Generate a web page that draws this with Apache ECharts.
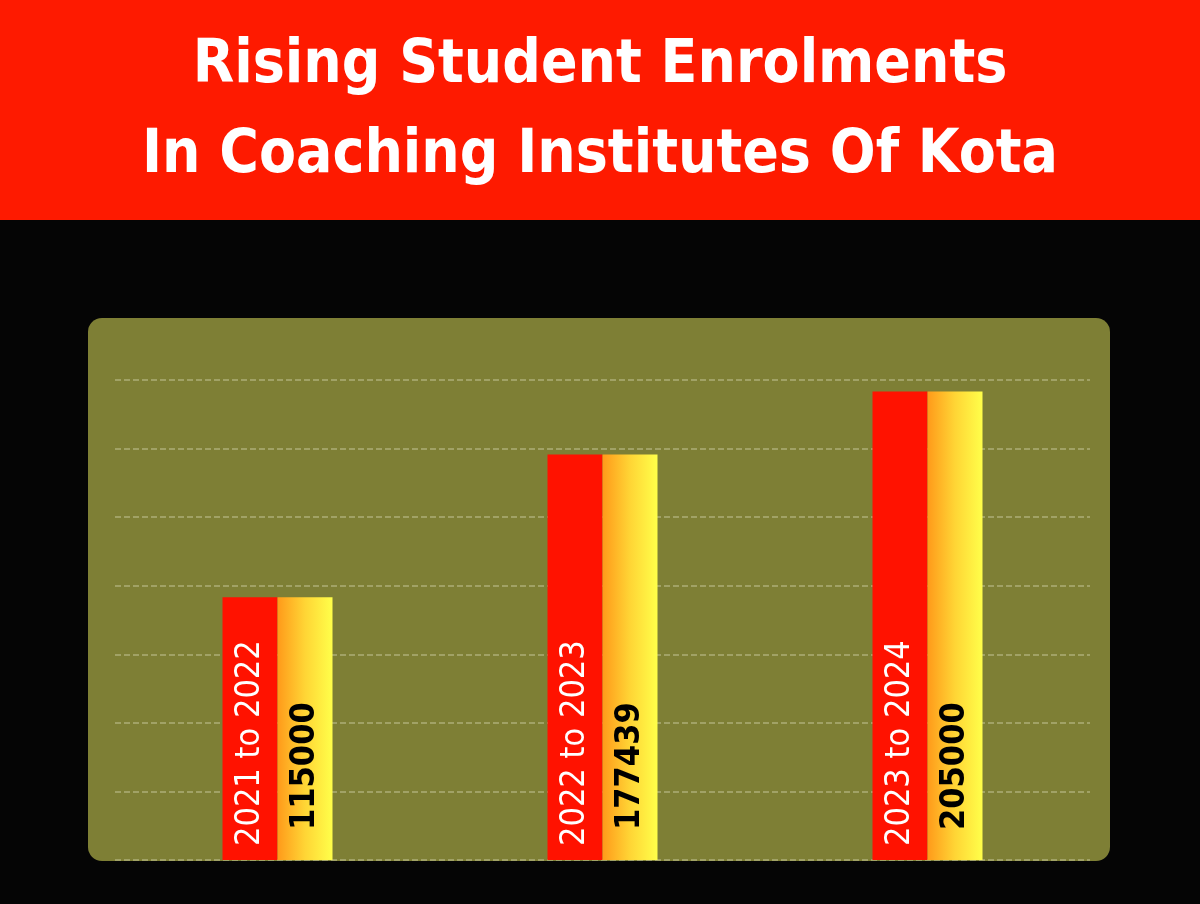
<!DOCTYPE html>
<html>
<head>
<meta charset="utf-8">
<script src="https://cdn.jsdelivr.net/npm/echarts@6/dist/echarts.min.js"></script>
<style>html,body{margin:0;background:#000}#c{width:1200px;height:904px}</style>
</head>
<body>
<div id="c"></div>
<script>
const periods = ['2021 to 2022', '2022 to 2023', '2023 to 2024']
const enrolments = [115000, 177439, 205000]
const font = '"Liberation Sans Narrow", "DejaVu Sans Condensed", "Roboto", sans-serif'

const chart = echarts.init(document.getElementById('c'))
chart.setOption({
  backgroundColor: '#050505',
  graphic: [
    { type: 'rect', shape: { x: 0, y: 0, width: 1200, height: 220 }, style: { fill: '#fe1a00' }, z: -10 },
    { type: 'rect', shape: { x: 88, y: 318, width: 1022, height: 543, r: 14 }, style: { fill: '#7e7f35' }, z: -10 },
    { type: 'text', left: 'center', top: 36, style: { text: 'Rising Student Enrolments', fill: '#fff', font: 'bold 60px ' + font } },
    { type: 'text', left: 'center', top: 126, style: { text: 'In Coaching Institutes Of Kota', fill: '#fff', font: 'bold 60px ' + font } }
  ],
  grid: { left: 115, right: 110, top: 380, bottom: 44 },
  xAxis: {
    type: 'category', data: periods,
    axisLine: { show: false }, axisTick: { show: false }, axisLabel: { show: false }
  },
  yAxis: {
    type: 'value', min: 0, max: 210000, interval: 30000,
    axisLabel: { show: false }, axisLine: { show: false },
    splitLine: { lineStyle: { color: 'rgba(230,230,200,0.45)', type: 'dashed', width: 1.5 } }
  },
  series: [
    {
      type: 'bar', data: enrolments, barWidth: 55, barGap: '0%',
      itemStyle: { color: '#ff1200' },
      label: {
        show: true, position: 'insideBottom', rotate: 90, align: 'left', verticalAlign: 'middle',
        distance: 14, formatter: p => periods[p.dataIndex],
        color: '#fff', fontSize: 34, fontFamily: font
      }
    },
    {
      type: 'bar', data: enrolments, barWidth: 55,
      itemStyle: {
        color: new echarts.graphic.LinearGradient(0, 0, 1, 0, [
          { offset: 0, color: '#ff9a1a' }, { offset: 0.5, color: '#ffd535' }, { offset: 1, color: '#ffff4a' }
        ])
      },
      label: {
        show: true, position: 'insideBottom', rotate: 90, align: 'left', verticalAlign: 'middle',
        distance: 30, color: '#000', fontSize: 34, fontWeight: 'bold', fontFamily: font
      }
    }
  ]
})
</script>
</body>
</html>
